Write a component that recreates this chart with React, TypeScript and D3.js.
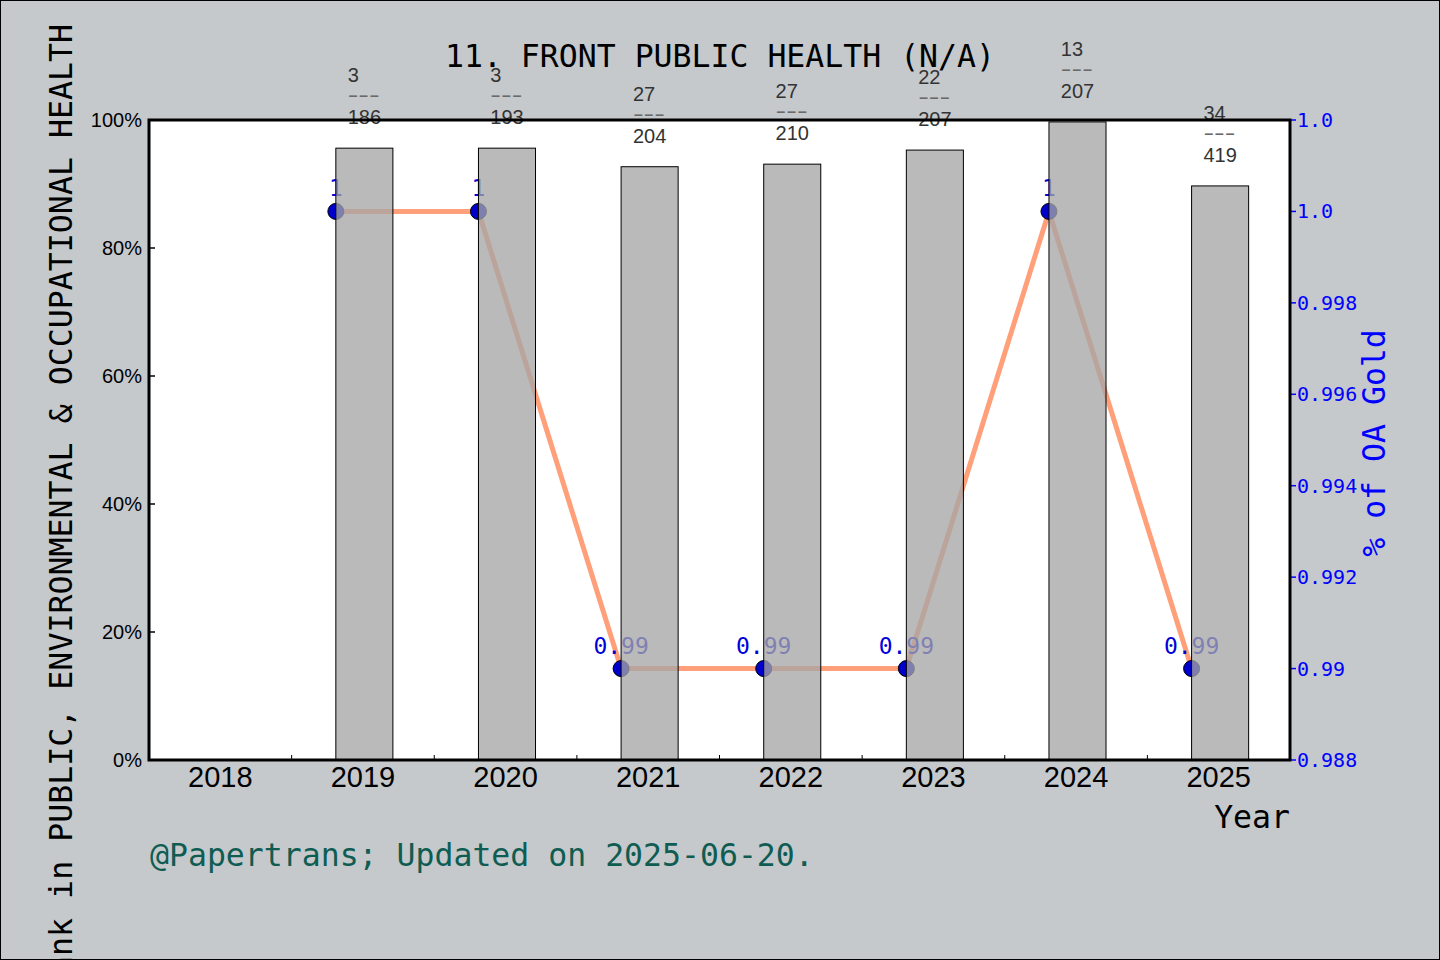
import { useRef, useEffect } from "react";
import * as d3 from "d3";

// chart data
const years = ["2018", "2019", "2020", "2021", "2022", "2023", "2024", "2025"];
const barYears = ["2019", "2020", "2021", "2022", "2023", "2024", "2025"];
const barPercent = [95.6, 95.6, 92.7, 93.1, 95.3, 99.7, 89.7];
const rankNumerators = [3, 3, 27, 27, 22, 13, 34];
const rankDenominators = [186, 193, 204, 210, 207, 207, 419];
const oaGold = [1, 1, 0.99, 0.99, 0.99, 1, 0.99];
const oaGoldLabels = ["1", "1", "0.99", "0.99", "0.99", "1", "0.99"];
const leftTicks = [0, 20, 40, 60, 80, 100];
const rightTicks = [0.988, 0.99, 0.992, 0.994, 0.996, 0.998, 1.0, 1.002];
const rightTickLabels = ["0.988", "0.99", "0.992", "0.994", "0.996", "0.998", "1.0", "1.0"];

const MONO = "'DejaVu Sans Mono', monospace";
const SANS = "'Liberation Sans', Arial, sans-serif";
const NARROW = "'Liberation Sans Narrow', 'Liberation Sans', sans-serif";

const Chart: React.FC = () => {
  const svgRef = useRef<SVGSVGElement | null>(null);

  useEffect(() => {
    if (!svgRef.current) return;
    const svg = d3.select(svgRef.current);
    svg.selectAll("*").remove();

    const W = 1440;
    const H = 960;
    const margin = { top: 120, right: 150, bottom: 200, left: 149 };
    const left = margin.left;
    const right = W - margin.right;
    const bottom = H - margin.bottom;
    const top = margin.top;

    // figure background + border
    svg
      .append("rect")
      .attr("x", 0.5)
      .attr("y", 0.5)
      .attr("width", W - 1)
      .attr("height", H - 1)
      .attr("fill", "#c5c9cc")
      .attr("stroke", "#000");

    svg
      .append("rect")
      .attr("x", left)
      .attr("y", top)
      .attr("width", right - left)
      .attr("height", bottom - top)
      .attr("fill", "#fff");

    const x = d3.scaleBand<string>().domain(years).range([left, right]);
    const step = x.step();
    const center = (d: string) => (x(d) as number) + step / 2;
    const barLeft = (d: string) => center(d) - step * 0.19;
    const barW = step * 0.4;

    const yL = d3.scaleLinear().domain([0, 100]).range([bottom, top]);
    const yR = d3.scaleLinear().domain([0.988, 1.002]).range([bottom, top]);

    // OA gold line
    const line = d3
      .line<number>()
      .x((_, i) => barLeft(barYears[i]))
      .y((v) => yR(v));

    svg
      .append("path")
      .datum(oaGold)
      .attr("d", line)
      .attr("fill", "none")
      .attr("stroke", "#ffa07a")
      .attr("stroke-width", 5);

    svg
      .append("g")
      .selectAll("circle")
      .data(oaGold)
      .join("circle")
      .attr("cx", (_, i) => barLeft(barYears[i]))
      .attr("cy", (v) => yR(v))
      .attr("r", 8)
      .attr("fill", "#0000cd")
      .attr("stroke", "#000")
      .attr("stroke-width", 1);

    svg
      .append("g")
      .selectAll("text")
      .data(oaGoldLabels)
      .join("text")
      .attr("x", (_, i) => barLeft(barYears[i]))
      .attr("y", (_, i) => yR(oaGold[i]) - 15)
      .attr("text-anchor", "middle")
      .attr("font-family", MONO)
      .attr("font-size", 23)
      .attr("fill", "#0000dd")
      .text((d) => d);

    // bars (semi-transparent, drawn over the line)
    svg
      .append("g")
      .selectAll("rect")
      .data(barPercent)
      .join("rect")
      .attr("x", (_, i) => barLeft(barYears[i]))
      .attr("y", (v) => yL(v))
      .attr("width", barW)
      .attr("height", (v) => bottom - yL(v))
      .attr("fill", "rgb(165,165,165)")
      .attr("fill-opacity", 0.77)
      .attr("stroke", "#000")
      .attr("stroke-width", 1);

    // rank labels above bars
    const labels = svg.append("g");
    barYears.forEach((yr, i) => {
      const c = barLeft(yr) + barW / 2;
      const t = yL(barPercent[i]);
      const w = Math.max(String(rankDenominators[i]).length * 11.1, 32);
      const lx = c - w / 2;
      labels
        .append("text")
        .attr("x", lx)
        .attr("y", t - 66)
        .attr("font-family", SANS)
        .attr("font-size", 20)
        .attr("fill", "#333")
        .text(rankNumerators[i]);
      labels
        .append("text")
        .attr("x", lx)
        .attr("y", t - 46)
        .attr("font-family", SANS)
        .attr("font-size", 20)
        .attr("textLength", 32)
        .attr("lengthAdjust", "spacingAndGlyphs")
        .attr("fill", "#6a6a6a")
        .text("---");
      labels
        .append("text")
        .attr("x", lx)
        .attr("y", t - 24)
        .attr("font-family", SANS)
        .attr("font-size", 20)
        .attr("fill", "#333")
        .text(rankDenominators[i]);
    });

    // x ticks (inward, at band boundaries)
    svg
      .append("g")
      .selectAll("line")
      .data(years.slice(1))
      .join("line")
      .attr("x1", (d) => x(d) as number)
      .attr("x2", (d) => x(d) as number)
      .attr("y1", bottom)
      .attr("y2", bottom - 5)
      .attr("stroke", "#000")
      .attr("stroke-width", 1);

    svg
      .append("g")
      .selectAll("text")
      .data(years)
      .join("text")
      .attr("x", (d) => center(d))
      .attr("y", bottom + 27)
      .attr("text-anchor", "middle")
      .attr("font-family", SANS)
      .attr("font-size", 29)
      .attr("fill", "#000")
      .text((d) => d);

    // left ticks
    svg
      .append("g")
      .selectAll("line")
      .data(leftTicks)
      .join("line")
      .attr("x1", left)
      .attr("x2", left + 6)
      .attr("y1", (d) => yL(d))
      .attr("y2", (d) => yL(d))
      .attr("stroke", "#000")
      .attr("stroke-width", 1.5);

    svg
      .append("g")
      .selectAll("text")
      .data(leftTicks)
      .join("text")
      .attr("x", left - 7)
      .attr("y", (d) => yL(d) + 7)
      .attr("text-anchor", "end")
      .attr("font-family", NARROW)
      .attr("font-size", 20)
      .attr("fill", "#000")
      .text((d) => `${d}%`);

    // right ticks
    svg
      .append("g")
      .selectAll("line")
      .data(rightTicks)
      .join("line")
      .attr("x1", right)
      .attr("x2", right + 6)
      .attr("y1", (d) => yR(d))
      .attr("y2", (d) => yR(d))
      .attr("stroke", "blue")
      .attr("stroke-width", 1.5);

    svg
      .append("g")
      .selectAll("text")
      .data(rightTicks)
      .join("text")
      .attr("x", right + 7)
      .attr("y", (d) => yR(d) + 7)
      .attr("font-family", MONO)
      .attr("font-size", 20)
      .attr("fill", "blue")
      .text((_, i) => rightTickLabels[i]);

    // spines
    svg
      .append("rect")
      .attr("x", left)
      .attr("y", top)
      .attr("width", right - left)
      .attr("height", bottom - top)
      .attr("fill", "none")
      .attr("stroke", "#000")
      .attr("stroke-width", 3);

    // title
    svg
      .append("text")
      .attr("x", W / 2)
      .attr("y", 67)
      .attr("text-anchor", "middle")
      .attr("font-family", MONO)
      .attr("font-size", 31.5)
      .attr("fill", "#000")
      .text("11. FRONT PUBLIC HEALTH (N/A)");

    // left axis label (runs off the figure)
    svg
      .append("text")
      .attr("transform", `translate(72,994) rotate(-90)`)
      .attr("font-family", MONO)
      .attr("font-size", 31.6)
      .attr("fill", "#000")
      .text("Rank in PUBLIC, ENVIRONMENTAL & OCCUPATIONAL HEALTH - SSCI");

    // right axis label
    svg
      .append("text")
      .attr("transform", `translate(1385,443) rotate(-90)`)
      .attr("text-anchor", "middle")
      .attr("font-family", MONO)
      .attr("font-size", 31.5)
      .attr("fill", "blue")
      .text("% of OA Gold");

    // x axis label
    svg
      .append("text")
      .attr("x", right)
      .attr("y", 828)
      .attr("text-anchor", "end")
      .attr("font-family", MONO)
      .attr("font-size", 31.5)
      .attr("fill", "#000")
      .text("Year");

    // footer
    svg
      .append("text")
      .attr("x", 150)
      .attr("y", 866)
      .attr("font-family", MONO)
      .attr("font-size", 31.5)
      .attr("fill", "#0f5c52")
      .text("@Papertrans; Updated on 2025-06-20.");
  }, []);

  return <svg ref={svgRef} width={1440} height={960} style={{ display: "block" }}></svg>;
};

const App: React.FC = () => {
  return (
    <div style={{ position: "absolute", left: 0, top: 0, width: 1440, height: 960 }}>
      <Chart />
    </div>
  );
};

export default App;
